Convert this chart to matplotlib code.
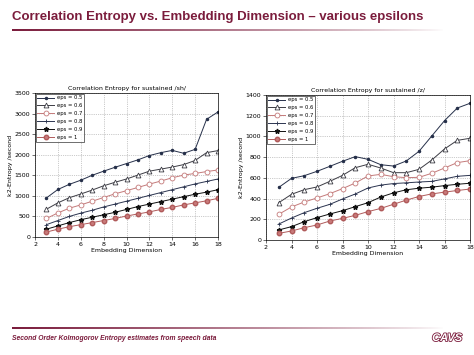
import numpy as np
import matplotlib.pyplot as plt
import matplotlib.patheffects as pe

# ------------------------------
# Data
# ------------------------------
dims = np.arange(3, 19)
eps_labels = ['eps = 0.5', 'eps = 0.6', 'eps = 0.7', 'eps = 0.8', 'eps = 0.9', 'eps = 1']

sh_05 = [950, 1155, 1280, 1380, 1500, 1600, 1695, 1785, 1875, 1980, 2050, 2105, 2035, 2130, 2860, 3040]
sh_06 = [675, 830, 955, 1045, 1140, 1245, 1330, 1410, 1505, 1600, 1650, 1700, 1760, 1860, 2050, 2100]
sh_07 = [450, 585, 700, 780, 870, 960, 1050, 1125, 1205, 1285, 1360, 1440, 1505, 1545, 1590, 1630]
sh_08 = [300, 400, 500, 580, 650, 730, 800, 870, 940, 1010, 1080, 1150, 1220, 1290, 1350, 1410]
sh_09 = [190, 270, 350, 420, 480, 540, 600, 670, 740, 800, 860, 920, 980, 1040, 1090, 1150]
sh_10 = [120, 190, 250, 300, 350, 400, 450, 510, 560, 610, 670, 720, 780, 830, 880, 940]

z_05 = [508, 595, 621, 663, 711, 760, 805, 779, 727, 714, 763, 856, 1004, 1152, 1274, 1320]
z_06 = [360, 441, 486, 512, 566, 624, 698, 731, 695, 650, 650, 682, 772, 879, 962, 982]
z_07 = [248, 319, 367, 406, 447, 496, 550, 618, 634, 611, 602, 605, 644, 695, 747, 766]
z_08 = [154, 212, 264, 306, 344, 396, 444, 502, 530, 545, 552, 560, 566, 590, 615, 624]
z_09 = [97, 129, 177, 216, 251, 283, 322, 360, 415, 455, 485, 500, 510, 525, 538, 548]
z_10 = [64, 87, 119, 145, 183, 209, 238, 274, 305, 345, 385, 420, 445, 462, 478, 492]

# Linienstile je epsilon
styles = [
    dict(color='#26304a', marker='.', ms=3, mfc='#26304a'),
    dict(color='#3c3c44', marker='^', ms=3.5, mfc='white', mew=0.6),
    dict(color='#c47a7a', marker='o', ms=3.5, mfc='white', mew=0.6),
    dict(color='#2c3550', marker='+', ms=3, mew=0.6),
    dict(color='#111111', marker='*', ms=3.5),
    dict(color='#b05a5a', marker='o', ms=3.2, mfc='#c87a7a'),
]

maroon = '#7b1c3c'

fig = plt.figure(figsize=(4.74, 3.55), dpi=100)


def px_axes(x0, y0, x1, y1):
    W, H = 474, 355
    return fig.add_axes([x0 / W, 1 - y1 / H, (x1 - x0) / W, (y1 - y0) / H])


def draw_panel(ax, series, title, ymax, ystep):
    for vals, lab, st in zip(series, eps_labels, styles):
        ax.plot(dims, vals, lw=0.7, label=lab, **st)
    ax.set_xlim(2, 18)
    ax.set_ylim(0, ymax)
    ax.set_xticks(np.arange(2, 19, 2))
    ax.set_yticks(np.arange(0, ymax + 1, ystep))
    ax.grid(True, ls=':', lw=0.5, color='#999999')
    ax.tick_params(labelsize=4.5, length=2, width=0.4, pad=1.5)
    for s in ax.spines.values():
        s.set_linewidth(0.5)
    ax.set_title(title, fontsize=4.5, pad=2.5)
    ax.set_xlabel('Embedding Dimension', fontsize=4.5, labelpad=1)
    ax.set_ylabel('k2-Entropy /second', fontsize=4.5, labelpad=1)
    leg = ax.legend(loc='upper left', fontsize=3.8, frameon=True, fancybox=False,
                    borderpad=0.35, labelspacing=0.55, handlelength=3.2,
                    handletextpad=0.5, borderaxespad=0.1, edgecolor='black')
    leg.get_frame().set_linewidth(0.5)


ax1 = px_axes(35, 93, 218, 237)
draw_panel(ax1, [sh_05, sh_06, sh_07, sh_08, sh_09, sh_10],
           'Correlation Entropy for sustained /sh/', 3500, 500)

ax2 = px_axes(266, 95, 470, 240)
draw_panel(ax2, [z_05, z_06, z_07, z_08, z_09, z_10],
           'Correlation Entropy for sustained /z/', 1400, 200)

# ------------------------------
# Folienrahmen: Titel, Verlaufslinien, Fusszeile
# ------------------------------
fig.text(12 / 474, 1 - 17 / 355, 'Correlation Entropy vs. Embedding Dimension \u2013 various epsilons',
         fontsize=9.5, fontweight='bold', color=maroon, family='Liberation Sans', va='center')

grad = np.linspace(0, 1, 256)
rgba = np.zeros((1, 256, 4))
rgba[..., 0] = 0x7b / 255
rgba[..., 1] = 0x1c / 255
rgba[..., 2] = 0x3c / 255
rgba[..., 3] = (1 - grad) ** 0.8

for y0 in (29, 327):
    gax = px_axes(12, y0, 445, y0 + 2.5)
    gax.imshow(rgba, aspect='auto', extent=[0, 1, 0, 1])
    gax.axis('off')

fig.text(12 / 474, 1 - 338 / 355, 'Second Order Kolmogorov Entropy estimates from speech data',
         fontsize=4.9, fontweight='bold', style='italic', color=maroon, family='Liberation Sans', va='center')

fig.text(462 / 474, 1 - 338 / 355, 'CAVS', fontsize=8, fontweight='bold', style='italic',
         color='white', family='Liberation Sans', va='center', ha='right',
         path_effects=[pe.withStroke(linewidth=1.2, foreground=maroon)])

fig.savefig('out.png', dpi=100)
